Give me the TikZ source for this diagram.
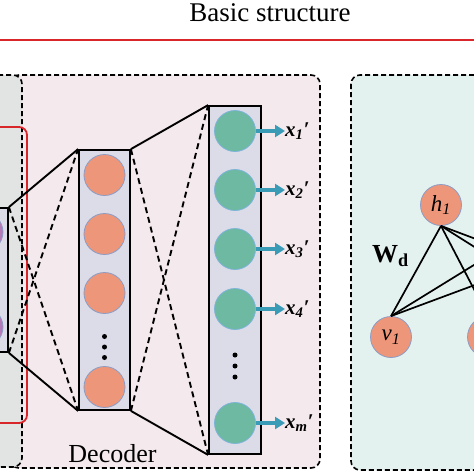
\documentclass[tikz,border=0pt]{standalone}
\usepackage{fontspec}
\setmainfont{Liberation Serif}
\usetikzlibrary{arrows.meta}
\definecolor{pinkbg}{HTML}{F4E9ED}
\definecolor{graybg}{HTML}{E2E4E4}
\definecolor{mintbg}{HTML}{E4F2EF}
\definecolor{colfill}{HTML}{DCDBE8}
\definecolor{orangec}{HTML}{EE967A}
\definecolor{orangeb}{HTML}{8C9CC4}
\definecolor{greenc}{HTML}{6DB9A2}
\definecolor{greenb}{HTML}{7DB4D8}
\definecolor{tealarr}{HTML}{3A9BB7}
\definecolor{redline}{HTML}{D8262A}
\definecolor{purplec}{HTML}{B47AB8}
\tikzset{
 dashbox/.style={draw=black, line width=1.6pt, dash pattern=on 5pt off 3pt, rounded corners=9pt},
 colbox/.style={draw=black, line width=1.8pt, fill=colfill, inner sep=0pt},
 orangenode/.style={circle, fill=orangec, draw=orangeb, line width=0.8pt, minimum size=41pt, inner sep=0pt},
 greennode/.style={circle, fill=greenc, draw=greenb, line width=0.8pt, minimum size=41pt, inner sep=0pt},
 purplenode/.style={circle, fill=purplec, draw=orangeb, line width=0.8pt, minimum size=40pt, inner sep=0pt},
 link/.style={line width=1.9pt},
 dlink/.style={line width=1.9pt, dash pattern=on 6pt off 4pt},
 outarr/.style={draw=tealarr, line width=3.8pt, -{Triangle[length=10pt,width=12pt]}},
 outlab/.style={anchor=west, inner sep=0pt, font=\fontsize{21}{21}\selectfont\bfseries\itshape},
 rbmnode/.style={circle, fill=orangec, draw=orangeb, line width=0.8pt, minimum size=41pt, inner sep=0pt, font=\fontsize{23}{23}\selectfont\itshape},
 rbmlink/.style={line width=1.7pt},
}
\begin{document}
\begin{tikzpicture}[x=1pt,y=-1pt]
\useasboundingbox (0,0) rectangle (474,474);
\clip (0,0) rectangle (474,474);
\fill[white] (0,0) rectangle (474,474);
% title
\node[anchor=base, font=\fontsize{27}{27}\selectfont, inner sep=0pt] (title) at (270,21) {Basic structure};
\draw[draw=redline, line width=2.5pt] (-5,40) -- (480,40);
% background boxes
\draw[dashbox, fill=pinkbg] (10,75) rectangle (320,468);
\draw[dashbox, fill=graybg] (-60,75) rectangle (22,467);
\draw[dashbox, fill=mintbg] (351,75) rectangle (540,470);
% encoder column (partial)
\node[colbox, minimum width=56pt, minimum height=144pt] (ecol) at (-20,280) {};
\begin{scope}
\clip (-48,208) rectangle (8,352);
\node[purplenode] (e1) at (-17,232) {};
\node[purplenode] (e2) at (-17,327) {};
\end{scope}
\draw[draw=redline, line width=1.8pt, rounded corners=8pt] (-60,127) rectangle (27,423);
% decoder columns
\node[colbox, minimum width=51pt, minimum height=260pt] (dcol) at (104.5,280) {};
\node[colbox, minimum width=52pt, minimum height=348pt] (ocol) at (235,280) {};
% connectors
\draw[link] (ecol.north east) -- (dcol.north west);
\draw[link] (ecol.south east) -- (dcol.south west);
\draw[dlink] (ecol.north east) -- (dcol.south west);
\draw[dlink] (ecol.south east) -- (dcol.north west);
\draw[link] (dcol.north east) -- (ocol.north west);
\draw[link] (dcol.south east) -- (ocol.south west);
\draw[dlink] (dcol.north east) -- (ocol.south west);
\draw[dlink] (dcol.south east) -- (ocol.north west);
% hidden layer circles
\node[orangenode] (d1) at (104.5,175) {};
\node[orangenode] (d2) at (104.5,234) {};
\node[orangenode] (d3) at (104.5,293) {};
\node[orangenode] (d4) at (104.5,387) {};
\foreach \yy in {336.5,347,357.5} \fill (104.5,\yy) circle (2.5pt);
% output circles
\node[greennode] (g1) at (235,131) {};
\node[greennode] (g2) at (235,190) {};
\node[greennode] (g3) at (235,249) {};
\node[greennode] (g4) at (235,309) {};
\node[greennode] (g5) at (235,423) {};
\foreach \yy in {355,366,377} \fill (235,\yy) circle (2.5pt);
% output labels
\node[outlab] (l1) at (285,131) {x\textsubscript{1}′};
\node[outlab] (l2) at (285,190) {x\textsubscript{2}′};
\node[outlab] (l3) at (285,249) {x\textsubscript{3}′};
\node[outlab] (l4) at (285,309) {x\textsubscript{4}′};
\node[outlab] (l5) at (285,423) {x\textsubscript{m}′};
\draw[outarr] (g1.east) -- (l1.west);
\draw[outarr] (g2.east) -- (l2.west);
\draw[outarr] (g3.east) -- (l3.west);
\draw[outarr] (g4.east) -- (l4.west);
\draw[outarr] (g5.east) -- (l5.west);
\node[anchor=base, font=\fontsize{26}{26}\selectfont, inner sep=0pt] (declab) at (112.5,462) {Decoder};
% RBM part
\coordinate (h2s) at (538,225.5);
\coordinate (h3s) at (635,225.5);
\coordinate (v3n) at (585,316.5);
\coordinate (v4n) at (682,316.5);
\node[rbmnode] (h1) at (441,205) {h\textsubscript{1}};
\node[rbmnode] (v1) at (391,337) {v\textsubscript{1}};
\node[rbmnode] (v2) at (488,337) {};
\draw[rbmlink] (h1.south) -- (v1.north);
\draw[rbmlink] (h1.south) -- (v2.north);
\draw[rbmlink] (h1.south) -- (v3n);
\draw[rbmlink] (h1.south) -- (v4n);
\draw[rbmlink] (v1.north) -- (h2s);
\draw[rbmlink] (v1.north) -- (h3s);
\node[anchor=base west, inner sep=0pt, font=\fontsize{26}{26}\selectfont\bfseries] (wd) at (372,262) {W\textsubscript{d}};
\end{tikzpicture}
\end{document}
